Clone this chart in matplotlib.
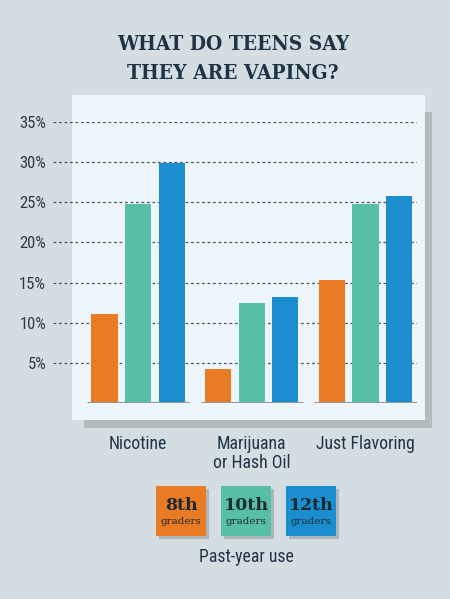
import numpy as np
import matplotlib.pyplot as plt
from matplotlib.patches import Rectangle

# data
categories = ["Nicotine", "Marijuana\nor Hash Oil", "Just Flavoring"]
grades = ["8th", "10th", "12th"]
grade_8 = [11.1, 4.3, 15.3]
grade_10 = [24.8, 12.5, 24.8]
grade_12 = [29.9, 13.2, 25.8]
yticks = [5, 10, 15, 20, 25, 30, 35]
ytick_labels = ["5%", "10%", "15%", "20%", "25%", "30%", "35%"]

colors = ["#E87B24", "#57BFA6", "#1A8ECE"]
bg = "#D4DDE2"
panel = "#EEF5FB"
shadow = "#B3BBBF"
dark = "#1E3445"
cond = ["Roboto Condensed", "Roboto", "DejaVu Sans"]

W, H = 450, 599
fig = plt.figure(figsize=(4.5, 5.99), dpi=100, facecolor=bg)


def px_rect(x0, y0, x1, y1, color, z):
    # rectangle given in pixel coords from top-left
    r = Rectangle((x0 / W, 1 - y1 / H), (x1 - x0) / W, (y1 - y0) / H,
                  transform=fig.transFigure, facecolor=color, edgecolor="none", zorder=z)
    fig.patches.append(r)


# panel with shadow
px_rect(84, 112, 432, 428, shadow, 0)
px_rect(72, 95, 425, 420, panel, 1)

# title
for txt, yy in [("WHAT DO TEENS SAY", 44), ("THEY ARE VAPING?", 73)]:
    fig.text(233 / W, 1 - yy / H, txt, ha="center", va="center", fontsize=15,
             fontweight="bold", family="DejaVu Serif", fontstretch="condensed", color=dark)

# axes
ax = fig.add_axes([53 / W, 1 - 403.3 / H, (417 - 53) / W, (403.3 - 121.7) / H])
ax.set_facecolor("none")
ax.set_zorder(2)
for s in ax.spines.values():
    s.set_visible(False)

x = np.arange(len(categories))
step = 0.295
width = 0.229
series = [grade_8, grade_10, grade_12]
for i, vals in enumerate(series):
    ax.bar(x + (i - 1) * step, vals, width, color=colors[i], zorder=3)

for yv in yticks:
    ax.axhline(yv, color="#4a5259", linestyle=(0, (2.2, 2.2)), linewidth=0.9, zorder=1)
for xc in x:
    ax.hlines(0, xc - 0.449, xc + 0.449, color="#8F999E", linewidth=2.2, zorder=4)

ax.set_xlim(-0.748, 2.453)
ax.set_ylim(0, 35)
ax.set_yticks(yticks)
ax.set_yticklabels(ytick_labels, family=cond, fontsize=12, color="#2B3A45")
ax.set_xticks(x)
ax.set_xticklabels(categories, family=cond, fontsize=12.8, color=dark, va="top",
                   linespacing=1.05)
ax.tick_params(axis="y", length=0, pad=5)
ax.tick_params(axis="x", length=0, pad=23)

# legend boxes
box_x = [156, 221, 286]
for i, g in enumerate(grades):
    x0 = box_x[i]
    px_rect(x0 + 3, 489, x0 + 53, 539, "#AEB6BA", 1)
    px_rect(x0, 486, x0 + 50, 536, colors[i], 2)
    fig.text((x0 + 25) / W, 1 - 505 / H, g, ha="center", va="center", fontsize=12.5,
             fontweight="bold", family="DejaVu Serif", color="#1E2A33")
    fig.text((x0 + 25) / W, 1 - 521 / H, "graders", ha="center", va="center",
             fontsize=7.5, family="DejaVu Serif", color="#1E2A33")

fig.text(246 / W, 1 - 557 / H, "Past-year use", ha="center", va="center",
         fontsize=12.8, family=cond, color=dark)

fig.savefig("out.png", dpi=100, facecolor=bg)
